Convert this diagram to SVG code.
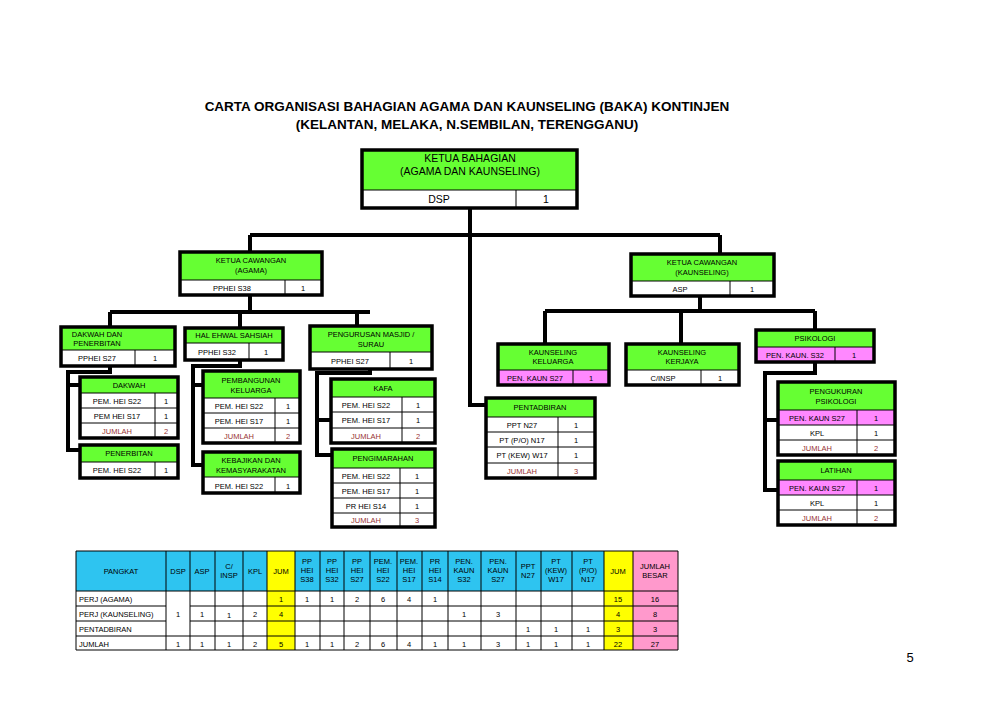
<svg xmlns="http://www.w3.org/2000/svg" width="1000" height="707" viewBox="0 0 1000 707">
<style>
text{font-family:"Liberation Sans",Arial,sans-serif;font-size:7.5px;text-anchor:middle;fill:#000}
.t{font-size:13.5px;font-weight:bold}
.g{fill:#66ff33}.w{fill:#fff}.p{fill:#ff88ff}.c{fill:#2ec4f0}.y{fill:#ffff00}.k{fill:#ff99cc}
.bx{fill:none;stroke:#000;stroke-width:3.5}
.ln{stroke:#000;stroke-width:1}
.cn{fill:none;stroke:#000;stroke-width:4}
.r{fill:#993333}
.tb{stroke:#000;stroke-width:1;fill:none}
</style>
<rect width="1000" height="707" fill="#fff"/>
<text class="t" x="467" y="111">CARTA ORGANISASI BAHAGIAN AGAMA DAN KAUNSELING (BAKA) KONTINJEN</text>
<text class="t" x="467" y="129">(KELANTAN, MELAKA, N.SEMBILAN, TERENGGANU)</text>
<g id="connectors">
<path class="cn" d="M470 208V235M250 235H720M250 235V252M720 235V254M470 235V405H486"/>
<path class="cn" d="M250 296V312M110 312H370M110 312V327M240 312V328M357 312V326"/>
<path class="cn" d="M110 366V372H68V450H80M68 385H80"/>
<path class="cn" d="M240 360V366H193V465H203M193 385H203"/>
<path class="cn" d="M370 369V373H317V455H332M317 420H330"/>
<path class="cn" d="M700 296V311M545 311H815M545 311V344M681 311V344M815 311V330"/>
<path class="cn" d="M815 362V373H765V490H778M765 420H778"/>
</g>
<g id="ketua-bahagian">
<rect class="g" x="362" y="150" width="215" height="40"/><rect class="w" x="362" y="190" width="215" height="18"/>
<path class="ln" d="M362 190H577M516 190V208"/><rect class="bx" x="362" y="150" width="215" height="58"/>
<text x="470" y="162" style="font-size:10.5px">KETUA BAHAGIAN</text><text x="470" y="175" style="font-size:10.5px">(AGAMA DAN KAUNSELING)</text>
<text x="439" y="203" style="font-size:10.5px">DSP</text><text x="546" y="203" style="font-size:10.5px">1</text>
</g>
<g id="kc-agama">
<rect class="g" x="180" y="252" width="142" height="28"/><rect class="w" x="180" y="280" width="142" height="15"/>
<path class="ln" d="M180 280H322M285 280V295"/><rect class="bx" x="180" y="252" width="142" height="43"/>
<text x="251" y="263">KETUA CAWANGAN</text><text x="251" y="273">(AGAMA)</text><text x="232" y="291">PPHEI S38</text><text x="303" y="291">1</text>
</g>
<g id="kc-kaunseling">
<rect class="g" x="631" y="254" width="143" height="27"/><rect class="w" x="631" y="281" width="143" height="15"/>
<path class="ln" d="M631 281H774M730 281V296"/><rect class="bx" x="631" y="254" width="143" height="42"/>
<text x="702" y="265">KETUA CAWANGAN</text><text x="702" y="275">(KAUNSELING)</text><text x="680" y="292">ASP</text><text x="752" y="292">1</text>
</g>
<g id="dakwah-penerbitan">
<rect class="g" x="61" y="327" width="114" height="23"/><rect class="w" x="61" y="350" width="114" height="16"/>
<path class="ln" d="M61 350H175M135 350V366"/><rect class="bx" x="61" y="327" width="114" height="39"/>
<text x="97" y="337">DAKWAH DAN</text><text x="97" y="346">PENERBITAN</text><text x="97" y="361">PPHEI S27</text><text x="155" y="361">1</text>
</g>
<g id="hal-ehwal">
<rect class="g" x="185" y="328" width="98" height="15"/><rect class="w" x="185" y="343" width="98" height="17"/>
<path class="ln" d="M185 343H283M249 343V360"/><rect class="bx" x="185" y="328" width="98" height="32"/>
<text x="234" y="338">HAL EHWAL SAHSIAH</text><text x="217" y="355">PPHEI S32</text><text x="266" y="355">1</text>
</g>
<g id="pengurusan-masjid">
<rect class="g" x="310" y="326" width="122" height="26"/><rect class="w" x="310" y="352" width="122" height="17"/>
<path class="ln" d="M310 352H432M390 352V369"/><rect class="bx" x="310" y="326" width="122" height="43"/>
<text x="371" y="337">PENGURUSAN MASJID /</text><text x="371" y="347">SURAU</text><text x="350" y="364">PPHEI S27</text><text x="411" y="364">1</text>
</g>
<g id="dakwah">
<rect class="g" x="80" y="377" width="98" height="16"/><rect class="w" x="80" y="393" width="98" height="45"/>
<path class="ln" d="M80 393H178M80 408H178M80 423H178M155 393V438"/><rect class="bx" x="80" y="377" width="98" height="61"/>
<text x="129" y="388">DAKWAH</text><text x="117" y="404">PEM. HEI S22</text><text x="166" y="404">1</text>
<text x="117" y="419">PEM HEI S17</text><text x="166" y="419">1</text><text class="r" x="117" y="434">JUMLAH</text><text class="r" x="166" y="434">2</text>
</g>
<g id="penerbitan">
<rect class="g" x="80" y="445" width="98" height="17"/><rect class="w" x="80" y="462" width="98" height="16"/>
<path class="ln" d="M80 462H178M155 462V478"/><rect class="bx" x="80" y="445" width="98" height="33"/>
<text x="129" y="456">PENERBITAN</text><text x="117" y="473">PEM. HEI S22</text><text x="166" y="473">1</text>
</g>
<g id="pembangunan">
<rect class="g" x="203" y="371" width="97" height="27"/><rect class="w" x="203" y="398" width="97" height="45"/>
<path class="ln" d="M203 398H300M203 413H300M203 428H300M275 398V443"/><rect class="bx" x="203" y="371" width="97" height="72"/>
<text x="251" y="383">PEMBANGUNAN</text><text x="251" y="393">KELUARGA</text>
<text x="239" y="409">PEM. HEI S22</text><text x="288" y="409">1</text><text x="239" y="424">PEM. HEI S17</text><text x="288" y="424">1</text>
<text class="r" x="239" y="439">JUMLAH</text><text class="r" x="288" y="439">2</text>
</g>
<g id="kebajikan">
<rect class="g" x="203" y="452" width="97" height="25"/><rect class="w" x="203" y="477" width="97" height="16"/>
<path class="ln" d="M203 477H300M275 477V493"/><rect class="bx" x="203" y="452" width="97" height="41"/>
<text x="251" y="463">KEBAJIKAN DAN</text><text x="251" y="473">KEMASYARAKATAN</text><text x="239" y="489">PEM. HEI S22</text><text x="288" y="489">1</text>
</g>
<g id="kafa">
<rect class="g" x="331" y="379" width="104" height="18"/><rect class="w" x="331" y="397" width="104" height="46"/>
<path class="ln" d="M331 397H435M331 412H435M331 428H435M402 397V443"/><rect class="bx" x="331" y="379" width="104" height="64"/>
<text x="383" y="391">KAFA</text><text x="366" y="408">PEM. HEI S22</text><text x="418" y="408">1</text>
<text x="366" y="423">PEM. HEI S17</text><text x="418" y="423">1</text><text class="r" x="366" y="439">JUMLAH</text><text class="r" x="418" y="439">2</text>
</g>
<g id="pengimarahan">
<rect class="g" x="332" y="449" width="103" height="19"/><rect class="w" x="332" y="468" width="103" height="59"/>
<path class="ln" d="M332 468H435M332 483H435M332 498H435M332 513H435M400 468V527"/><rect class="bx" x="332" y="449" width="103" height="78"/>
<text x="383" y="461">PENGIMARAHAN</text><text x="366" y="479">PEM. HEI S22</text><text x="417" y="479">1</text>
<text x="366" y="494">PEM. HEI S17</text><text x="417" y="494">1</text><text x="366" y="509">PR HEI S14</text><text x="417" y="509">1</text>
<text class="r" x="366" y="523">JUMLAH</text><text class="r" x="417" y="523">3</text>
</g>
<g id="pentadbiran">
<rect class="g" x="486" y="398" width="109" height="19"/><rect class="w" x="486" y="417" width="109" height="61"/>
<path class="ln" d="M486 417H595M486 432H595M486 447H595M486 463H595M558 417V478"/><rect class="bx" x="486" y="398" width="109" height="80"/>
<text x="540" y="410">PENTADBIRAN</text><text x="522" y="428">PPT N27</text><text x="576" y="428">1</text>
<text x="522" y="443">PT (P/O) N17</text><text x="576" y="443">1</text><text x="522" y="458">PT (KEW) W17</text><text x="576" y="458">1</text>
<text class="r" x="522" y="474">JUMLAH</text><text class="r" x="576" y="474">3</text>
</g>
<g id="kaunseling-keluarga">
<rect class="g" x="498" y="344" width="111" height="26"/><rect class="p" x="498" y="370" width="111" height="15"/>
<path class="ln" d="M498 370H609M573 370V385"/><rect class="bx" x="498" y="344" width="111" height="41"/>
<text x="553" y="355">KAUNSELING</text><text x="553" y="364">KELUARGA</text><text x="535" y="381">PEN. KAUN S27</text><text x="591" y="381">1</text>
</g>
<g id="kaunseling-kerjaya">
<rect class="g" x="626" y="344" width="113" height="26"/><rect class="w" x="626" y="370" width="113" height="15"/>
<path class="ln" d="M626 370H739M701 370V385"/><rect class="bx" x="626" y="344" width="113" height="41"/>
<text x="682" y="355">KAUNSELING</text><text x="682" y="364">KERJAYA</text><text x="663" y="381">C/INSP</text><text x="720" y="381">1</text>
</g>
<g id="psikologi">
<rect class="g" x="756" y="330" width="118" height="17"/><rect class="p" x="756" y="347" width="118" height="15"/>
<path class="ln" d="M756 347H874M835 347V362"/><rect class="bx" x="756" y="330" width="118" height="32"/>
<text x="815" y="341">PSIKOLOGI</text><text x="795" y="358">PEN. KAUN. S32</text><text x="854" y="358">1</text>
</g>
<g id="pengukuran">
<rect class="g" x="778" y="382" width="117" height="28"/><rect class="p" x="778" y="410" width="117" height="15"/><rect class="w" x="778" y="425" width="117" height="30"/>
<path class="ln" d="M778 410H895M778 425H895M778 440H895M857 410V455"/><rect class="bx" x="778" y="382" width="117" height="73"/>
<text x="836" y="394">PENGUKURAN</text><text x="836" y="404">PSIKOLOGI</text>
<text x="817" y="421">PEN. KAUN S27</text><text x="876" y="421">1</text><text x="817" y="436">KPL</text><text x="876" y="436">1</text>
<text class="r" x="817" y="451">JUMLAH</text><text class="r" x="876" y="451">2</text>
</g>
<g id="latihan">
<rect class="g" x="778" y="461" width="117" height="19"/><rect class="p" x="778" y="480" width="117" height="15"/><rect class="w" x="778" y="495" width="117" height="30"/>
<path class="ln" d="M778 480H895M778 495H895M778 510H895M857 480V525"/><rect class="bx" x="778" y="461" width="117" height="64"/>
<text x="836" y="473">LATIHAN</text><text x="817" y="491">PEN. KAUN S27</text><text x="876" y="491">1</text>
<text x="817" y="506">KPL</text><text x="876" y="506">1</text><text class="r" x="817" y="521">JUMLAH</text><text class="r" x="876" y="521">2</text>
</g>
<g id="table">
<rect class="c" x="76" y="551" width="528" height="40"/>
<rect class="y" x="267" y="551" width="28" height="99"/><rect class="y" x="604" y="551" width="29" height="99"/>
<rect class="k" x="633" y="551" width="45" height="99"/>
<path class="tb" d="M76 551H678V650H76ZM76 591H678M76 606H166M190 606H678M76 621H166M190 621H678M76 636H678M166 551V650M190 551V650M215 551V650M243 551V650M267 551V650M295 551V650M320 551V650M344 551V650M370 551V650M397 551V650M422 551V650M448 551V650M481 551V650M516 551V650M541 551V650M572 551V650M604 551V650M633 551V650"/>
<text x="121" y="574">PANGKAT</text><text x="178" y="574">DSP</text><text x="202" y="574">ASP</text>
<text x="229" y="569">C/</text><text x="229" y="578">INSP</text><text x="255" y="574">KPL</text><text x="281" y="574">JUM</text>
<text x="307" y="564">PP</text><text x="307" y="573">HEI</text><text x="307" y="582">S38</text>
<text x="332" y="564">PP</text><text x="332" y="573">HEI</text><text x="332" y="582">S32</text>
<text x="357" y="564">PP</text><text x="357" y="573">HEI</text><text x="357" y="582">S27</text>
<text x="383" y="564">PEM.</text><text x="383" y="573">HEI</text><text x="383" y="582">S22</text>
<text x="409" y="564">PEM.</text><text x="409" y="573">HEI</text><text x="409" y="582">S17</text>
<text x="435" y="564">PR</text><text x="435" y="573">HEI</text><text x="435" y="582">S14</text>
<text x="464" y="564">PEN.</text><text x="464" y="573">KAUN</text><text x="464" y="582">S32</text>
<text x="498" y="564">PEN.</text><text x="498" y="573">KAUN</text><text x="498" y="582">S27</text>
<text x="528" y="569">PPT</text><text x="528" y="578">N27</text>
<text x="556" y="564">PT</text><text x="556" y="573">(KEW)</text><text x="556" y="582">W17</text>
<text x="588" y="564">PT</text><text x="588" y="573">(P/O)</text><text x="588" y="582">N17</text>
<text x="618" y="574">JUM</text><text x="655" y="569">JUMLAH</text><text x="655" y="578">BESAR</text>
<g style="text-anchor:start"><text x="79" y="602" style="text-anchor:start">PERJ (AGAMA)</text><text x="79" y="617" style="text-anchor:start">PERJ (KAUNSELING)</text><text x="79" y="632" style="text-anchor:start">PENTADBIRAN</text><text x="79" y="647" style="text-anchor:start">JUMLAH</text></g>
<text x="281" y="602">1</text><text x="307" y="602">1</text><text x="332" y="602">1</text><text x="357" y="602">2</text><text x="383" y="602">6</text><text x="409" y="602">4</text><text x="435" y="602">1</text><text x="618" y="602">15</text><text x="655" y="602">16</text>
<text x="178" y="617">1</text><text x="202" y="617">1</text><text x="229" y="618">1</text><text x="255" y="617">2</text><text x="281" y="617">4</text><text x="464" y="617">1</text><text x="498" y="617">3</text><text x="618" y="617">4</text><text x="655" y="617">8</text>
<text x="528" y="632">1</text><text x="556" y="632">1</text><text x="588" y="632">1</text><text x="618" y="632">3</text><text x="655" y="632">3</text>
<text x="178" y="647">1</text><text x="202" y="647">1</text><text x="229" y="647">1</text><text x="255" y="647">2</text><text x="281" y="647">5</text><text x="307" y="647">1</text><text x="332" y="647">1</text><text x="357" y="647">2</text><text x="383" y="647">6</text><text x="409" y="647">4</text><text x="435" y="647">1</text><text x="464" y="647">1</text><text x="498" y="647">3</text><text x="528" y="647">1</text><text x="556" y="647">1</text><text x="588" y="647">1</text><text x="618" y="647">22</text><text x="655" y="647">27</text>
</g>
<text x="910" y="662" style="font-size:13px">5</text>
</svg>
